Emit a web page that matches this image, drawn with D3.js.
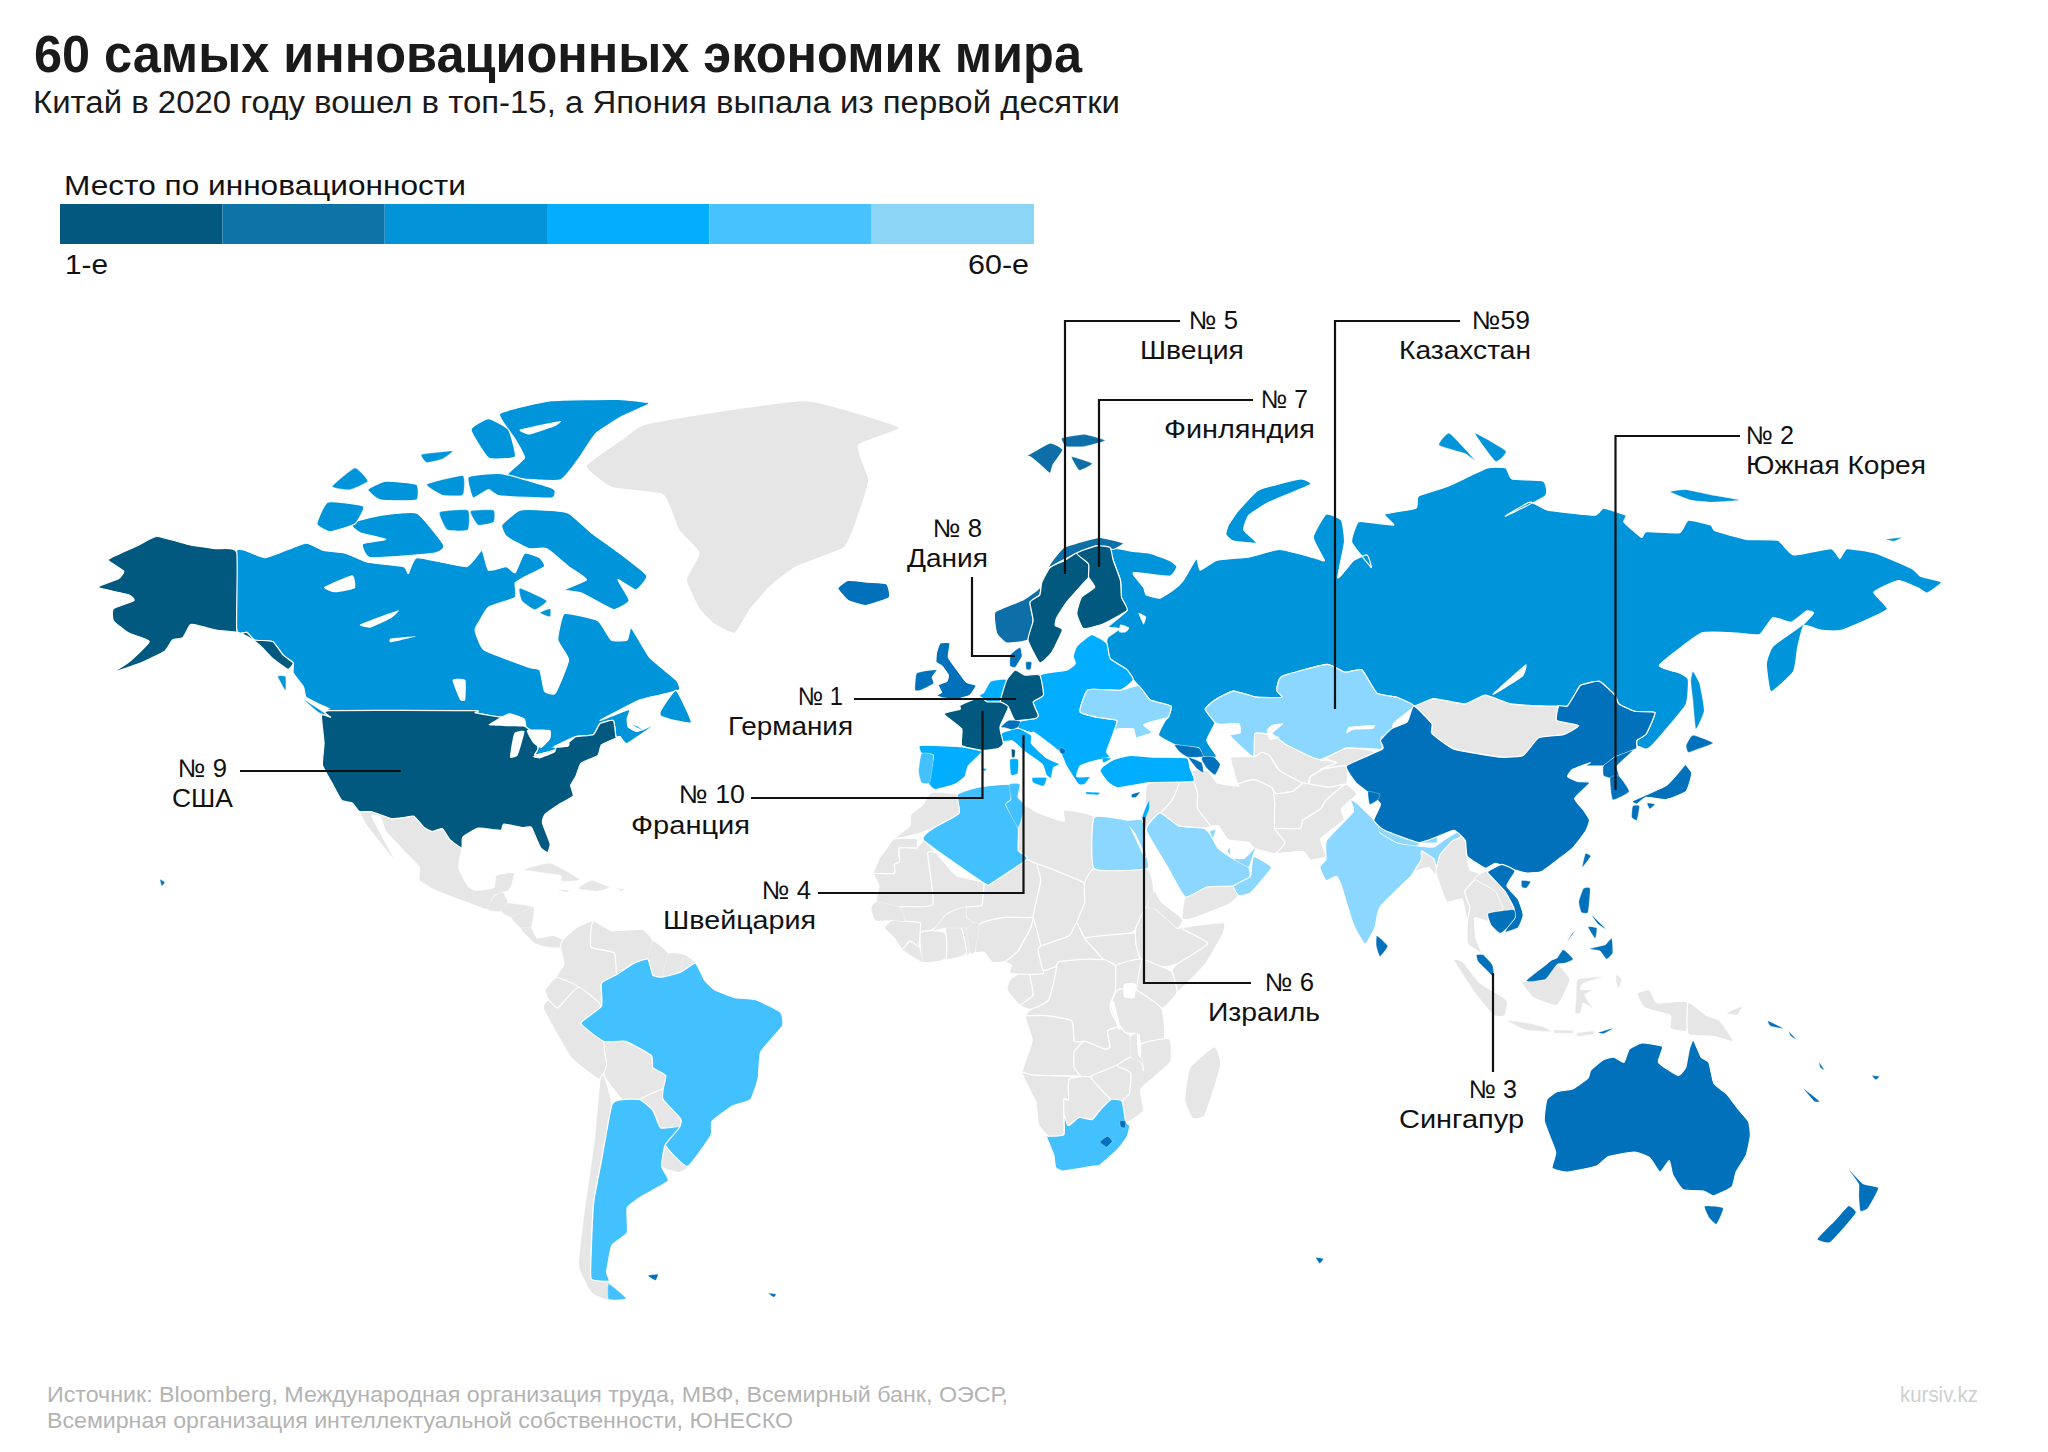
<!DOCTYPE html>
<html lang="ru"><head><meta charset="utf-8">
<script src="https://cdn.jsdelivr.net/npm/d3@7/dist/d3.min.js"></script>
<style>html,body{margin:0;background:#fff}svg{display:block}text{font-family:"Liberation Sans",Arial,sans-serif}</style>
</head><body><svg id="c" width="2048" height="1452"></svg>
<script>
const titleText="60 самых инновационных экономик мира";
const subtitleText="Китай в 2020 году вошел в топ-15, а Япония выпала из первой десятки";
const legendTitle="Место по инновационности";
const legendEnds=["1-е","60-е"];
const bucketColors=["#02597f","#0171bc","#0095da","#00adff","#43c1ff","#8bd7ff"];
const legendColors=["#02587f","#0e74a8","#0393d9","#05adff","#47c2fe","#8dd5f6"];
const norwayColor="#0e6fa8", greyColor="#e6e6e6";
const ranks=["№ 9","№ 10","№ 4","№ 1","№ 8","№ 5","№ 7","№59","№ 2","№ 6","№ 3"];
const rankNames=["США","Франция","Швейцария","Германия","Дания","Швеция","Финляндия","Казахстан","Южная Корея","Израиль","Сингапур"];
const sourceLines=["Источник: Bloomberg, Международная организация труда, МВФ, Всемирный банк, ОЭСР,","Всемирная организация интеллектуальной собственности, ЮНЕСКО"];
const credit="kursiv.kz";

// geography: lon,lat rings
const greyRegions=[
"-73,78.2 -68,76.2 -58,75.5 -55,72 -51,69.5 -53.5,66.5 -51,63 -48,61 -44,59.9 -41,63 -37,65.8 -32,68 -23,70 -21,72 -19,75 -18,77 -20,80 -12,81.5 -30,83.6 -50,82.6 -62,81.7 -66,80.5",
"-117.1,32.5 -114.8,32.5 -111,31.3 -108.2,31.5 -106.5,31.7 -104.5,29.7 -103,29 -101,29.5 -99.5,27.5 -97.2,26 -97.8,22.5 -96,19 -94.5,18.2 -91,18.7 -90.5,21 -87,21.5 -87.5,19 -88.2,18 -89.2,17.8 -91,17 -92.2,14.5 -96,15.8 -102,18 -105.5,20 -105.5,22.5 -109,26 -112,29 -113,31.5 -114.7,31.7 -112,27 -109.7,23 -111,24.5 -114,28 -115.7,30",
"-92.2,14.5 -91,17 -89.2,17.8 -88.2,15.7 -89.5,14.2","-89.5,14.2 -88.2,15.7 -83.2,15 -87.5,13","-87.5,13 -83.2,15 -83.7,11 -85.7,11","-85.7,11 -83.7,11 -82.5,9 -79.5,9.5 -77.5,8.7 -78,7.3 -80.5,7.3 -82.9,8 -85,10",
"-85,22 -80,23.2 -74.2,20.2 -77.7,19.9 -78,21","-74.5,18.5 -72,20 -68.5,18.7 -71,18","-78.3,18.3 -76.3,18.2 -77,17.8","-67.2,18.5 -65.7,18.4 -66,18",
"-77.5,8.7 -75,11 -71.5,12.4 -72,7.3 -67.5,6.2 -67,2 -70,0.3 -70,-4.2 -74.5,-0.5 -78.8,1.4 -77.3,4 -78,7.3",
"-72,11 -71.5,12.4 -68,10.5 -62,10.7 -60,8.5 -61,5 -64,4 -67,2 -67.5,6.2 -72,7.3","-60,8.5 -57,6 -58,1.5 -60,1.8 -61,5","-57,6 -54,5.8 -54.5,2.5 -58,1.5","-54,5.8 -51.7,4.2 -54.5,2.5",
"-80.3,-3 -81,-1 -78.8,1.4 -74.5,-0.5 -78.5,-4.5","-81.3,-4.7 -80.3,-3 -78.5,-4.5 -74.5,-0.5 -70,-4.2 -74,-7.5 -69.5,-11 -69,-15.5 -70.3,-18.3 -76,-14",
"-69.5,-11 -65.3,-11 -60.3,-13.7 -60,-16 -57.5,-17.5 -58,-20 -62.5,-22 -66,-22 -69.5,-17.5 -69,-15.5","-58,-20 -58,-22 -54.6,-25.5 -54.8,-27 -58.5,-27.2 -60,-24 -62.5,-22",
"-70.3,-18.3 -69.5,-17.5 -68,-23 -70,-33 -71.5,-40 -72,-48 -72,-52 -68.5,-52.3 -68.6,-55 -72,-54 -74.5,-50 -73.3,-41 -71.5,-30",
"-57.6,-30.2 -53.3,-34 -55,-35 -58.3,-34",
"-5.9,35.8 -.7,35.5 -.4,32.2 -5.2,29.7 -8.7,28.5 -13,27.7 -10,30 -9.8,32 -7.5,33.7","-13,27.7 -8.7,27.7 -8.7,26 -12,26 -12,23.5 -13,23 -13,21.3 -17,21.3 -16,24 -14.5,26",
"-17,21.3 -13,21.3 -13,23 -12,23.5 -12,26 -8.7,26 -7.3,27.4 -4.8,25 -6.5,25 -5.5,15.5 -12,15 -16.5,16 -16,19",
"-12,15 -5.5,15.5 -6.5,25 -4.8,25 -1,21 4.5,19.5 4,15.3 1,15 -1,14.5 -3,13.5 -5,11 -8,10 -8,12 -11,12.3",
"4.5,19.5 5.9,19.5 12.8,24 15,23 15.5,20 14,13 13,13 8,13 3.5,11.7 2.3,12 1,13 1,15 4,15.3",
"12.3,33.5 15,32.3 20,30.8 20,32.8 25.9,31.5 25.9,22.2 24,19.5 15,23 12.8,24 11.1,25.6 11.1,29.7","15,23 24,19.5 24,15.7 22.5,12 21,9.5 15.5,7.5 14,13 15.5,20",
"25.9,22.2 36.2,22.2 37.5,18 36,15 34,11 33,10 24,9 22.5,12 24,15.7 24,19.5","24,9 33,10 34,10 34,8 35,5 30,3.7 27.5,5","36,15 38,14.5 42,11 43,11 48,8 42,4 39,3.5 35,5 34,8 34,11","37.5,18 39,15.8 43,12.7 42,11 38,14.5 36,15",
"43,11 51,12 51,10 47.5,4 42,-1.5 41,2.5 42,4 48,8","35,5 39,3.5 41,2.5 42,-1.5 39,-4.6 34,-1 34.5,2","30,3.7 35,5 34.5,2 34,-1 30,-1","30.5,-1 34,-1 39,-4.6 39.5,-10.5 35,-11.5 34.3,-9.5 32,-9.3 29.5,-6 29,-4",
"12.5,-6 13.5,-4.8 17,-3 18.5,3.6 19,4.5 25,5 27.5,5 30,3.7 30,-1 29,-4 29.5,-6 30.7,-8.2 28.5,-9 29,-12 28,-12.5 24,-11 22,-11 21.5,-7 16.5,-6",
"9.5,1 11.3,2.2 13.3,2.2 14,-2 11.5,-4 8.9,-1","11.5,-4 14,-2 13.3,2.2 14,3.5 18.5,3.6 17,-3 13.5,-4.8","8.5,4.5 9.8,3.8 9.5,2.2 16,2.2 15,6.5 15.5,7.5 14,13 13.5,11 11,6.5",
"15,6.5 16,2.8 18.5,3.6 19,4.5 25,5 27.5,5 24,9 22.5,12 21,9.5 15.5,7.5","2.7,6.4 4.5,6.3 6,4.3 8.5,4.5 11,6.5 13.5,11 14,13 13,13 8,13 3.5,11.7",
"1.6,6.2 2.7,6.4 3.5,11.7 2.3,12 1,11","1,6 1.6,6.2 1,11 0,11","-3,5 1,6 0,11 -3,11","-7.5,4.4 -3,5 -3,10 -5.5,10.5 -8,10","-5.5,10.5 -3,11 1,11 2.3,12 1,13 1,15 -1,14.5 -3,13.5 -5,11",
"-11.5,6.9 -7.5,4.4 -8.3,7.5 -10,8.5","-15,11 -13,9 -11.5,6.9 -10,8.5 -8.3,7.5 -8,10 -8,12 -11,12.3 -13.5,12.5","-17.5,14.7 -16.5,16 -12,15 -11,12.3 -13.5,12.5 -16.7,12.4",
"12,-5 12.5,-6 16.5,-6 21.5,-7 22,-11 24,-11 22,-13 22,-16 23.3,-17.6 14,-17.4 11.8,-17 13.5,-12 13.8,-10.5","11.8,-17 14,-17.4 25.2,-17.8 21,-18.2 20.9,-22 20,-22 20,-28.4 17,-28.7 15,-26.5 14.5,-22.5",
"22,-13 24,-11 28,-12.5 29,-12 28.5,-9 30.7,-8.2 32,-9.3 33,-10 33,-14 30.3,-15.6 28,-16.5 25.2,-17.8 23.3,-17.6 22,-16","21,-18.2 25.2,-17.8 29.2,-22 27,-24 25.5,-25.7 23,-25.3 20.8,-26.8 20,-24.8 20,-22 20.9,-22",
"25.2,-17.8 28,-16.5 30.3,-15.6 33,-17 32.7,-21 31.3,-22.3 29.2,-22","30.3,-15.6 33,-14 35,-15 35.5,-16.5 35,-11.5 40.5,-10.5 40.7,-15 35,-20 35.5,-24 32.8,-26 32,-26 31.3,-22.3 32.7,-21 33,-17","33,-10 33,-14 35,-15 35.5,-16.5 35,-11.5 34.3,-9.5","49.3,-12 50.5,-15.5 47.5,-24.8 45,-25.5 43.5,-22 44.5,-16",
"52.5,41.7 56.9,41.8 58.5,42.5 60,42 62,39.5 66.5,37.4 64.5,36 61.2,35.6 60.5,36.6 57,38 53.9,37.3 53,39.5","57.2,45.5 60.7,45.2 63.3,43.7 69.8,41.3 71,41.2 73,40.8 71,40 68,38.5 67.5,37.3 66.5,37.4 62,39.5 60,42 58.5,42.5 56.9,41.8",
"71,41.5 75,43.2 80,42.8 80,41.5 75,40.3 70,39.7 73,40.8","68,38.5 71,40 70,39.7 75,40.3 75,37.2 71.5,36.7 68,37","60.5,36.6 61.2,35.6 64.5,36 66.5,37.4 67.5,37.3 71.5,36.7 74.8,37.2 71,34.5 70,33 66.5,31 66,29.5 61,29.5 61,34",
"61,25 66.5,25.4 68,23.8 71,24.5 70,27.7 74.5,31 74,33 77,35.5 74.8,37.2 71,34.5 70,33 66.5,31 66,29.5 61,29.5 63,27",
"44.5,39.5 48,39.5 49,38.4 50,37.4 54,36.9 53.9,37.3 57,38 60.5,36.6 61,34 61,29.5 63,27 61,25 57,26 56,27 52,27.5 50,30 48.5,30 46,33 46,35.5 44.5,37.2","42.3,37.5 45.2,37.7 46,35.5 46,33 48.5,30 47,29.6 42.3,30 38.7,32.3 41,34.5",
"36,36.7 36.7,37.5 42.3,37.5 41,34.5 38.7,32.3 36,33 35.8,34.6","36,33 38.7,32.3 37.5,31.5 38,30.3 36,29.3 35.3,31","43,12.8 45,12.8 52,15.5 54,17.2 53,19 47.8,18.8 43.6,16.9",
"88.1,49.7 91.6,47 91.6,45.5 95.9,43 105,41.7 109.4,42 112.4,44.8 117.2,45.3 120.2,46.7 115.9,47.5 116.3,49.7 113,49.7 107,50 102,51.3 98,50 92,50.8",
"88,25.5 88.7,24.3 88.5,21.9 91,22.5 92.5,21 92.5,22.5 92,24 89.6,25.5","92.5,21 94.5,16 97.5,16.5 98.5,12 99,15 98,18 101,21.2 99,22 98.5,24.5 98.1,27.4 96.8,29 97.2,28 95.6,27.3 93.2,24.8 92.5,22.5",
"98,18 99,15 98.5,12 98.5,8 100.5,6.5 101.5,5.8 100.2,9 100,13 102.6,12.2 102.6,13.8 105.5,14.5 104,18 100.5,20 100,20.5 101,21.2","100,20.5 102.6,21.8 105.8,18 107.5,15 107.5,14.5 102.6,13.8 105.5,14.5 104,18 100.5,20",
"109,0.5 110,0.8 113.6,1 116,4 118.5,1 116,-4 111.3,-2.5","95.8,4.8 97.7,4.4 101,0.3 106.2,-3 105.8,-6 103.6,-6 100,-1.7","106.2,-6.9 110,-7.4 113.3,-8.2 114.9,-9.1 110,-8.8","115.5,-8.8 119,-8.9 119,-9.4 115.5,-9.4","119.8,-9.4 123,-9 123,-9.6 120,-10",
"119.5,-5.5 119.7,-2.5 120,1 124.8,1.5 121,0.3 120.5,-1 123,-1 121.3,-2 122.8,-4.5 121,-3.5 120.5,-5.5","127.5,2 128.5,1 128,-0.7 127.5,0.5","131.5,-1.7 134,-1 135.4,-3.5 141.2,-3.3 141.2,-9 138,-8.5 138,-6 133,-4.5","141.5,-3.5 145.1,-6 147.7,-7 150.3,-11 146.4,-10 141.5,-9.6","149,-5.5 152,-4.2 151,-5.9"
];
const bucket1Regions=[
"-141,69.6 -145,70 -150,70.4 -156.5,71.3 -160,70.4 -166,68.8 -163,67.5 -164,66.6 -168,65.6 -162,64.7 -161,64 -165,63 -165,61.5 -162,59.9 -158,58.8 -162,56 -165,54.6 -160,55.8 -155,57.5 -153.5,59 -151.5,59.3 -150,61 -148,60.8 -145,60.3 -141,60 -139,59.5 -136.5,58.3 -134,56.5 -131,55 -130,55.9 -132,57 -134,58.8 -137.5,59 -139,60 -141,60.3",
"-123,49 -95,49 -94.6,48.7 -92,48.3 -89.5,48 -88,48 -84.7,46.5 -83.5,45.8 -82.5,45.3 -82.4,43 -83,42 -79,42.9 -79,43.5 -76.5,44 -75,45 -71.6,45.3 -70.3,47 -67.7,47.5 -67.2,45 -67,44.8 -70,43.7 -70.7,42 -74,40.7 -75,38.5 -76,37 -75.5,35.2 -78,33.9 -81,32 -81.5,30.5 -80,26.8 -80.5,25.2 -81.8,26 -82.8,28 -83.7,29.8 -85.3,29.7 -89,30.3 -89.5,29.2 -91,29.3 -94,29.6 -97,28 -97.2,26 -99.5,27.5 -101,29.5 -103,29 -104.5,29.7 -106.5,31.7 -108.2,31.5 -111,31.3 -114.8,32.5 -117.1,32.5 -118.5,34 -120.6,34.5 -122.5,37.5 -124.3,40.4 -124,44 -124.5,48.3 -122.7,48",
"10.5,54.9 12.4,54.2 15.3,54.2 16,51.3 14,50.3 15,48.3 14.4,47.8 10.5,47.5 9.2,49.5 7.6,50.3 8.85,53.5",
"-3.35,48.5 -0.2,49.2 -0.2,49.8 3.65,51 5.1,50.3 7.6,50.3 9.2,49.5 7.55,46.5 8.2,43.9 7.2,43.1 4,42.8 0.1,43.6 0.1,46.2","9.8,43 10.5,42.8 10.4,41.7 9.9,41.7",
"20.2,68.7 22.5,69.5 24.8,68.3 24.8,66.8 23.8,66.1 20.5,63.8 18.6,61.9 18.3,60.9 19.7,60.3 17.6,57.3 15.3,55.9 13,59 14,61.5 13.4,63.8 15.3,64.7 15.7,66.2 17.3,67.9",
"22.5,69.5 26.4,70.3 29,70.1 29.6,68.7 31,66.4 31.2,64.4 32.3,62.8 27.7,61.1 23.8,60.5 22.5,62.4 23.4,64.4 26,65.6 24.8,66.8 24.8,68.3"
];
const bucket2Regions=[
"-24,65.5 -22,64 -18.5,63.4 -14,64.4 -14.5,66 -18,66.2 -22,66.4",
"-4.8,57.3 -4.1,58.6 -2.2,58.6 -2.5,56.7 -1.2,55.3 1,53.2 2.9,52.7 1.7,51.3 -1,50.7 -3.8,50.9 -4.8,51.3 -3.8,51.7 -4.5,52.8 -2.8,53.3 -2.5,54.2 -3.8,55.5 -4.9,56","-9,52.1 -8.7,54.4 -6.7,54.8 -4.8,54.9 -5.7,53.9 -5.4,53 -8,52",
"9.6,57 11.45,58 11.8,56.8 10.5,55.3 9.5,55.5","12.6,56 13.7,56 13.5,55 12.7,55",
"7.75,46.5 9.2,47.5 11.45,47.4 11.1,46.5 9.8,46.1 8.5,46.4",
"19.2,42.5 19.3,43.3 20.4,42.8 19.9,42.2","41.6,43.7 46.2,43.2 47.1,41.8 44.2,41.7 42.6,42.5","44.2,41.7 46.8,40.8 47.1,39.2 45.8,39.9","47.1,41.8 49.2,41.7 50.4,40.5 49.4,38.8 47.8,39.9 46.8,41.3","33.2,35.5 34.8,35.9 34,35 33.2,35",
"75,40.3 76.8,37.5 79.4,35.7 81.6,33.8 80.3,31 82.4,29.2 89,27 92.5,28 95.9,29.2 98.1,27.4 98.5,24.5 102,22.3 104,23.2 107.6,22 110.2,21.4 113,21.7 116.3,24 119,26 121.5,29 122.3,31 121.1,32.8 119.4,34.8 122.4,37.5 120,37.7 118,38.5 119,39.7 122.4,40.8 121.5,40.3 125,40.3 127.2,41.7 130.7,42.8 131.5,43.2 131.5,44.4 133.3,45.4 135,48.7 131,48.9 128,50 127.2,51.3 124.2,53.3 120.7,52.8 120.2,52.4 118,49.7 116.3,49.7 115.9,47.5 120.2,46.7 117.2,45.3 112.4,44.8 109.4,42 105,41.7 95.9,43 91.6,45.5 91.6,47 88.1,49.7 86.8,47.3 83.7,46.2 81.6,44.4 82,43",
"79.2,36 81.5,35.5 81,34.5 79.5,33.8","109.1,20 110.8,19.8 110,18.6 109.1,18.8","121.5,25 122.5,24.5 120.9,22.5",
"125,40.3 127.2,41.7 130.7,42.8 127.6,40.3 128,38.6 126.3,38.3 125,38.7","126.3,38.3 128,38.6 130,36 126.8,34.6",
"140.7,40.8 142.2,39.1 141.1,36 137.2,34.6 133.3,35 131.5,33.8 130.7,34.4 137.2,37 140.7,40.3","142.4,45.2 146.3,44 143.3,43 141.5,42.5 141.1,43.6","130.7,33.5 132,33.5 131.5,31 130.5,31.5","133.5,34 135,33.8 134,33",
"80.9,9.5 83,7.5 81.5,5.5 80.8,7.5","102.6,21.8 105.2,23 107.8,21.8 106.2,19 108.4,16.5 109.4,13.5 108.4,11 105.8,10 104.9,8.6 106.2,11 107.8,13 107.5,15 105.8,18 102.6,21.3","102.6,13.8 107.5,14.5 107.8,13 106.2,11 104.9,10 103.2,11.5",
"100.3,5.8 101.6,5.8 103.4,3.8 103.7,1.4 102.6,2.5 100.6,4.5","110,0.8 111.4,2 114,4 115,4.8 116,5.2 117.2,6.8 119.1,5 117.5,4.2 116,4 114.5,2 113.6,1 110.8,0.6",
"121.1,18.5 122.4,18.5 122,14 120.7,14 120.2,16","122.4,7 125.3,7.7 126.6,9 126.8,6.2 125.6,5 124.3,6.6","122.7,13.5 125.6,10.7 124,11.7","122,11.2 123.7,11 123.4,9","117.8,8.2 119.6,10.6 118.8,9.8",
"114,-22 116,-20.5 119,-20 122,-18 122.5,-16.5 125,-14.5 127,-14 129,-15 130,-12.5 132.5,-11.3 136.5,-12 135.7,-15 139.5,-17.5 141,-16 141.7,-12.5 142.5,-10.7 144,-14 145.5,-15 146.5,-19 149,-21 151,-23.5 153.2,-26 153.6,-28.5 152.8,-32 150.8,-35 150,-37.5 146.5,-39 144.5,-38.2 140.5,-38 138.5,-35.5 137.8,-33 136,-35 134,-32.5 131,-31.5 126,-32.3 123.5,-34 118,-35 115,-34.3 115.7,-31.5 113.5,-26",
"144.7,-40.7 148.3,-41 147,-43.6 145.5,-42.5","172.7,-40.6 174.2,-41.8 171,-45 169,-46.6 166.5,-46 170,-43","172.7,-34.5 175.5,-37 178.5,-37.7 176.5,-41 175,-41.5 174.7,-39 174.7,-37",
"27,-29.7 28.5,-28.7 29.4,-29.6 28.3,-30.6","30.9,-25.9 32,-26 31.9,-27.2 31,-27","-155.9,20.2 -155,19.7 -155.6,19","-61,-51.5 -59,-51.3 -59.5,-52.2","-37.5,-54 -36,-54.2 -36.5,-54.6","69,-48.8 70.5,-49 69.8,-49.7","124,-9.3 127,-8.4 125,-9.5","157,-7 160,-8.5 157.5,-8","161,-9 162.5,-10.6 161.5,-10","167,-15 168,-16.5 167.2,-16","164,-20 167,-22.3 166,-22.3","177.3,-17.5 178.7,-17.7 178,-18.3"
];
const bucket3Regions=[
"-141,69.8 -135.4,69 -127.6,70.6 -124.1,69.8 -119.8,69.5 -115.5,68.5 -108.5,68 -107.6,67.2 -105.9,69 -96.3,68 -93.3,69.8 -92,67.6 -88.5,68 -86.8,67.3 -85,69.5 -82,69 -81.1,68 -85,66.8 -86.8,66.1 -86.8,64.4 -92,63.2 -93.7,61.5 -94.6,60.3 -92.9,57.7 -84.2,55.3 -82,54.9 -81.1,51.9 -79,51.6 -76.4,56.3 -78.5,59 -77.2,62.4 -70.7,61.5 -68.1,59 -65,59 -64.2,60.6 -60.7,56.7 -55.5,53.5 -55,52 -62.5,50.6 -70.3,47.5 -64.6,49.2 -65,47.8 -64.8,46.5 -63,45.8 -59.8,46.8 -65,43.9 -66.4,45 -67.2,45 -67.7,47.5 -70.3,47 -71.6,45.3 -75,45 -79,43.5 -79,42.9 -83,42 -82.4,43 -82.5,45.3 -83.5,45.8 -84.7,46.5 -88,48 -89.5,48 -92,48.3 -94.6,48.7 -95,49 -123,49 -123,49.3 -125,50 -127.5,51 -128,52.5 -130,54.5 -130,55.9 -132,57 -134,58.8 -137.5,59 -139,60 -141,60.3",
"-89.4,72.5 -85.9,74 -80.7,74 -76.4,73.7 -72,71.7 -67.2,69.8 -61.2,67 -63.3,65.3 -66.8,66.5 -64.6,64 -67.7,62.9 -73.8,64.9 -77.2,65.3 -72.9,66.5 -76.4,68 -80.7,70 -84.2,70 -88.5,71.3",
"-118.9,72.7 -112.8,73.5 -105.9,73.7 -100.7,70.4 -102.4,69.5 -115,69 -116.5,70.5 -112,71 -117,71.7","-125.4,72.6 -123.3,74.8 -116.3,74.4 -118,72.6 -122.8,71.8",
"-89.8,82.6 -79.8,83.6 -66.8,83.7 -60.7,83.4 -65.9,82.4 -71.1,81 -74.2,79 -78.1,76.9 -88.5,77.2 -85,78.9 -86.8,80.5","-95.4,81.3 -92,82.2 -88.1,81.3 -86.8,79 -92,78.9","-95.9,77.2 -89.4,77.5 -79.4,76.1 -79.8,75.2 -89.8,75.4 -92,76 -95,75.2",
"-115.5,76 -112,76.8 -106,76.5 -106,75 -113,75","-122.4,76.3 -118,78 -115.5,76.8 -119,76","-105,79.2 -99,79.5 -101,78.8 -104,78.5","-104,76.5 -97,77.3 -97,75.5 -101,75.5","-101.5,73.8 -96,74 -96,72 -100,72","-95.5,73.9 -91,74 -91,72.8 -94,72.5","-85.9,65.5 -80.7,64 -83,62.9 -85.5,64","-58.5,49 -55.5,52 -52.5,47.2 -56.4,47.6 -58.5,48.2","-128,50.7 -123.5,48.4 -125,48.7","-133,54 -131.5,52 -131.5,54","-64,46.8 -62,46 -63,46.6","-80,62 -82,62.5 -80,63",
"28.6,59.4 30.9,60.5 28.6,60.7 32.3,62.8 31.2,64.4 31,66.4 29.6,68.7 29,70.1 33.5,69.7 36.7,69.5 40.6,68.7 42,68 40.6,66.9 33.5,67.3 35.5,65.6 36,64.7 38.7,64.3 41.3,65.3 43.2,66.4 45.8,68.9 46.5,67.6 49.7,68.7 56.2,69.1 62,69.9 69.2,68.9 70.7,68.7 68.5,71.2 71,73.6 74,73 74.6,70.7 73.3,66.7 76.4,68.7 79,69.3 79.8,67.9 76,70.7 77.2,72.8 79,72.8 84.2,72.5 82.4,73.6 88.5,74.2 89,75.4 94.6,76.3 102.4,78 106,78 107.2,77 113.3,76.8 113.7,75.4 105.9,73.4 110.7,74.8 114.2,74 123.3,73.5 125,74.2 129.4,73.5 129,72.8 132.4,71.2 133.3,71.8 139.8,71.7 141.5,73 145.9,72.5 146.7,71.9 152.8,71 158.9,70.9 162,69.3 169.3,70 171,68.9 172.4,70 178,69.5 185,67.8 186.7,66.9 190.8,66.2 188,64.9 186.3,65.5 182.4,66.4 177.6,65 180.2,62.9 171.5,60.3 167.2,60.3 164,60.9 162.8,58 162,54.7 157.6,51.8 156.7,55.8 158,58.2 164,61.1 165.9,62.5 164.5,62.7 161.5,61.3 158,61.9 155.4,59.7 151,59.9 144.1,59.9 135.9,55.6 139.8,54.5 141.5,53.6 141,49.8 134.6,43.7 133.3,43 131.5,43.5 130.7,42.8 131.5,43.2 131.5,44.4 133.3,45.4 135,48.7 131,48.9 128,50 127.2,51.3 124.2,53.3 120.7,52.8 120.2,52.4 118,49.7 116.3,49.7 113,49.7 107,50 102,51.3 98,50 92,50.8 88.1,49.7 84.8,51 80.9,51.6 78,54.9 74.7,54.6 71.1,55.7 62.4,54 61.4,52 62.4,51 57.5,51 53,51.9 49.4,50.6 47.5,49.2 49.4,47.2 47.8,44.4 49.7,41.8 47.1,41.8 46.2,43.2 41.6,43.7 38.4,45.2 39.7,47.5 40.3,48 40.8,49.7 36.8,50.6 34.5,52.7 33.5,53.5 32.2,55 29,56.5 28.3,58.6",
"51.5,71.5 53,70.8 57.5,70.6 55,72 56,73.5 60,74.8 68,76.5 66,77 58,76 54,74 52,72.5","93,80 98,79.3 100,78.7 95,81","100,81 104,78.6 106,79.5","138,75.8 141,76 146,75.5 151.5,75 146,74.8 142,75","180,71 183,71.2 181.5,70.8","142.4,54.7 143.7,53 144.6,49 143,46.2 142.4,50.6 142,53.3"
];
const bucket4Regions=[
"15.3,54.2 20.5,54.9 22.2,55.8 21.8,56.8 22.5,58.2 25.4,59.7 28.3,58.6 29,56.5 32.2,55 33.5,53.5 30.9,52 24.7,52.1 23.1,48.8 26.4,48 30.3,47.5 29.6,45.5 28.3,42.6 29,41.7 27,41.3 24.4,40.7 23.1,40.2 22.5,38.5 25.1,38.5 24.1,37.2 22.8,37.2 20.5,40.2 19.2,42.5 15.3,45 14,45.7 13.7,45.6 11.1,46.3 11.45,47.4 14.4,47.8 15,48.3 14,50.3 16,51.3",
"27.7,40.3 29.6,41.3 32.9,42 37.4,41.7 43.9,41.6 44.5,40 45.2,37.7 36.7,37.5 30.6,36.6 28.6,37.5 27,39.4","27.5,41.6 29.2,41.5 27.7,40.8",
"7.9,45.6 11.1,46.3 13.7,45.2 13.7,43.9 16.6,41.6 19.2,40.6 18,40 17.5,38.2 16.5,38.8 15.8,40.5 12.5,42.5 10,44.3 8,44.2","13.9,38.3 16.6,38.3 16,36.9 14,37.5","9.5,41.3 11.1,41.3 11,39 9.7,38.8","24.3,35.9 27,35.8 26.5,35.4 24.5,35.5",
"-8,43.6 -0.2,43.4 4,42.6 1.4,40.3 .75,38.5 -1.2,37.2 -5.1,36.3 -6.4,37.5 -5.4,42 -7.7,42.3","3.6,51.2 4.5,51.7 5.8,53.3 8.85,53.5 7.6,50.3 5.1,50.3","35.8,29.5 35.2,31.3 35.8,33 36.6,34.5 36.6,33 36,31.5","4,39.9 5,39.8 4.5,39.4"
];
const bucket5Regions=[
"-51.7,4.2 -50,1 -48,-1 -44,-2.5 -40,-2.9 -35.2,-5.3 -34.8,-8 -39,-13 -39.5,-18 -41,-22 -44.5,-23.2 -48.5,-26 -48.7,-28.5 -53.3,-34 -57.6,-30.2 -54.8,-27 -54.6,-25.5 -58,-22 -58,-20 -57.5,-17.5 -60,-16 -60.3,-13.7 -65.3,-11 -69.5,-11 -74,-7.5 -70,-4.2 -70,0.3 -67,2 -64,4 -61,5 -60,1.8 -58,1.5 -54.5,2.5",
"-66,-22 -62.5,-22 -60,-24 -58.5,-27.2 -54.8,-27 -57.6,-30.2 -58.3,-34 -57,-36.5 -62,-39 -65,-41 -65,-45 -68,-47 -69,-51 -68.5,-52.3 -72,-52 -72,-48 -71.5,-40 -70,-33 -68,-23","-68.6,-52.7 -68.6,-54.9 -65.2,-54.8",
"-.7,35.5 3.1,36.7 9.4,37.2 9.7,34.6 8.7,33.7 11.1,29.7 11.1,25.6 12.8,24 5.9,19.5 4.5,19.5 -7.3,27.4 -5.2,29.7 -.4,32.2","9.4,37.2 11.4,37.2 11,35 12.3,33.5 11.1,29.7 8.7,33.7 9.7,34.6",
"-7.7,42.3 -5.4,42 -6.1,37.5 -7.7,37.5 -8.3,39.4",
"16.5,-28.6 17,-28.7 20,-28.4 20,-24.8 20.8,-26.8 23,-25.3 25.5,-25.7 27,-24 29.2,-22 31.3,-22.3 32,-26 32.8,-26.8 32.3,-28.8 30.5,-31 27,-33.8 25.5,-34 20,-34.8 18.4,-34.2 18,-32"
];
const bucket6Regions=[
"47.5,49.2 49.4,50.6 53,51.9 57.5,51 62.4,51 61.4,52 62.4,54 71.1,55.7 74.7,54.6 78,54.9 80.9,51.6 84.8,51 88.1,49.7 84.1,47 84.1,45.2 81.8,44.9 81.8,43 75,43.2 69.8,41.3 63.3,43.7 60.7,45.2 57.2,45.5 56.9,41.8 54.3,43.5 52.3,45.2 54.3,45.6 54,47 50.4,46.9 49.4,47.2",
"23.1,48.8 24.7,52.1 30.9,52 34.5,52.7 36.8,50.6 40.8,49.7 40.3,48 38,47.5 35.5,46.8 37.2,45.7 35.8,45.2 34,44.8 33.5,46.2 30.5,46.2 29.6,45.5 30.3,47.5 26.4,48",
"75.7,34.6 77,34 79.9,31.5 81.5,30 81.5,28.8 84.8,27 89,26.4 92,26.2 94,27.5 96.8,29 97.2,28 95.6,27.3 93.2,24.8 92.5,22.5 92,24 89.6,25.5 89.6,24 88,21.5 87.4,20.7 81.5,15 80.5,11 78.6,7.9 76.3,11.7 74,19 73,20.8 71,20 69.8,22.5 71,24 71.1,27.4 76.3,32.5",
"81.5,30.3 89,27.5 88.6,26.4 84.8,27 81.5,28.8","89.6,28 92.5,28 92.5,27 89.6,27",
"36,29.3 38.7,32.3 42.3,30 47.1,29.6 48.4,28.6 50,26 53,24 55.9,22.5 56.2,20.7 53,19 47.8,18.8 43.6,16.9 40,22.8",
"53,19 56.2,20.7 56.5,22.5 57,24.5 60.4,22.5 58.2,19.7 56.2,17.6 54,17.2","53,24 55.9,22.5 56.5,24 57.2,26 56.2,25 55,24","51.8,25.5 52.3,26 52.3,24.8","48.4,29 49.5,29.3 49,27.8",
"25.9,31.5 32.5,31 35.3,31 36,25 36.2,22.2 25.9,22.2"
];
const norwayRegions=["6.6,62.6 12.1,64.1 15.3,65.6 17.3,68.3 19.9,70.1 23.8,70.8 27,71.2 31.6,70.6 29.6,69.9 26.4,70.3 22.5,69.5 17.3,67.9 15.7,66.2 15.3,64.7 13.4,63.8 14,61.5 13,59 8.85,58.6 6.9,59.9","12.4,79 17.3,80.2 19.8,79.6 17.9,78.3 17.3,77.5 15.3,78.3 13.4,79","19.6,80.6 24,80.9 28,80.4 24,79.9 20.5,79.9","21.5,79 25.5,78.4 23,77.8"];
const lakeRegions=[
"-92,46.8 -88,48.6 -85,47.8 -84.7,46.6 -87,46.6","-87.8,41.7 -86.3,42 -85,45.8 -87,45.5","-84.5,46 -80,46 -80,44.6 -81.7,43.2 -83.3,44","-83.4,41.8 -79,42.8 -79.2,42.4 -82,41.5","-79.8,43.3 -76.3,44 -76.5,43.4 -79,43.2",
"-124,65.6 -118.5,67 -118,65.5 -122,65","-117,61 -109.5,62.8 -111,61.8 -115,60.6","-99,53.5 -96.5,53.5 -96.5,50.6 -97.5,50.6","-111,59.2 -106,59.5 -111,58.7","-85.9,81.3 -78,82 -79,81.6 -84,80.9",
"103.6,51.6 109.9,55.7 109.3,54 104,51.5","75,45.5 75.5,46.5 80.5,46.8 80,46.2 76.5,46.1","59.5,46 60,44.5 62,44.8 60.6,45.5 62.7,47 60.5,46.8","31,61 32.7,60.6 32,60 30.7,60","34.5,62.5 36,62 35.5,61",
"31.7,0.2 34,0.2 33.7,-2.6 31.7,-2.4","29,-3.5 29.8,-3.5 31,-8.5 30.5,-8.5","34.2,-9.8 34.8,-9.8 35,-14 34.4,-13.5","32.7,30 33.5,28.5 35.6,24.3 35.9,24.6 34,28.5"
];

const svg=d3.select("#c");
const projection=d3.geoProjection((l,p)=>[l,1.25*Math.log(Math.tan(Math.PI/4+0.4*p))]).rotate([-11,0]).scale(294.4).translate([1017.7,984.7]);
const ring=s=>s.split(" ").map(p=>projection(p.split(",").map(Number)));
const line=d3.line().curve(d3.curveCardinalClosed.tension(0.55));
const layers=[[greyRegions,greyColor],[bucket3Regions,bucketColors[2]],[bucket4Regions,bucketColors[3]],[bucket5Regions,bucketColors[4]],[bucket6Regions,bucketColors[5]],[norwayRegions,norwayColor],[bucket1Regions,bucketColors[0]],[bucket2Regions,bucketColors[1]]];
const map=svg.append("g");
layers.forEach(([rows,col])=>{
  map.append("g").selectAll("path").data(rows.map(ring)).join("path")
   .attr("d",line).attr("fill",col).attr("stroke","#fff").attr("stroke-linejoin","round")
   .attr("stroke-width",d=>Math.abs(d3.polygonArea(d))<500?0.3:1.2);
});
map.append("g").selectAll("path").data(lakeRegions.map(ring)).join("path").attr("d",line).attr("fill","#fff");

function txt(s,x,y,size,w,opt={}){
  const t=svg.append("text").attr("x",x).attr("y",y).attr("font-size",size).attr("fill",opt.fill||"#111").text(s);
  if(opt.bold)t.attr("font-weight",700);
  if(w)t.attr("textLength",w).attr("lengthAdjust","spacingAndGlyphs");
  return t;
}
function block(lines,size,fill){
  const t=svg.append("text").attr("font-size",size).attr("fill",fill);
  lines.forEach(([s,x,y,w])=>t.append("tspan").attr("x",x).attr("y",y).attr("textLength",w).attr("lengthAdjust","spacingAndGlyphs").text(s));
}
txt(titleText,34,72,51,1048,{bold:true,fill:"#1a1a1a"});
txt(subtitleText,33,113,31,1087,{fill:"#1a1a1a"});
txt(legendTitle,64,195,28,402);
const legendScale=d3.scaleBand().domain(d3.range(6)).range([60,1034]);
svg.append("g").selectAll("rect").data(legendColors).join("rect").attr("x",(d,i)=>legendScale(i)).attr("y",204).attr("width",legendScale.bandwidth()).attr("height",40).attr("fill",d=>d);
txt(legendEnds[0],65,274,28,43);
txt(legendEnds[1],968,274,28,61);

const calloutLayout=[
 {r:[178,777,49],n:[172,807,61],p:[[240,771],[401,771]]},
 {r:[679,803,66],n:[631,834,119],p:[[751,798],[982.5,798],[982.5,711]]},
 {r:[762,899,49],n:[663,929,153],p:[[818,893],[1023.5,893],[1023.5,735]]},
 {r:[798,705,45],n:[728,735,125],p:[[854,699],[1016,699]]},
 {r:[933,537,49],n:[907,567,81],p:[[972,577],[972,656],[1015,656]]},
 {r:[1189,329,49],n:[1140,359,104],p:[[1180,321],[1065,321],[1065,574]]},
 {r:[1261,408,47],n:[1164,438,151],p:[[1253,400],[1099,400],[1099,567]]},
 {r:[1472,329,58],n:[1399,359,132],p:[[1460,321],[1335,321],[1335,709]]},
 {r:[1746,444,48],n:[1746,474,180],p:[[1740,436],[1615.5,436],[1615.5,790]]},
 {r:[1265,991,49],n:[1208,1021,112],p:[[1251,983],[1144,983],[1144,817]]},
 {r:[1469,1098,48],n:[1399,1128,125],p:[[1493,1072],[1493,973]]}
];
calloutLayout.forEach((c,i)=>{
  svg.append("path").attr("d",d3.line()(c.p)).attr("fill","none").attr("stroke","#111").attr("stroke-width",2.2);
  block([[ranks[i],c.r[0],c.r[1],c.r[2]],[rankNames[i],c.n[0],c.n[1],c.n[2]]],25.5,"#111");
});
block([[sourceLines[0],47,1402,961],[sourceLines[1],47,1428,746]],22,"#b3b3b3");
txt(credit,1900,1402,22,78,{fill:"#cfcfcf"});
</script></body></html>
